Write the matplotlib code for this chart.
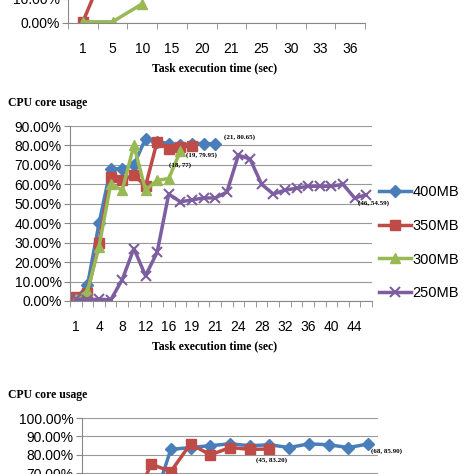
import matplotlib
matplotlib.use("Agg")
import matplotlib.pyplot as plt
from matplotlib.lines import Line2D
import numpy as np

# ---- top panel (cropped) ----
top_labels = ["1", "5", "10", "15", "20", "21", "25", "30", "33", "36"]
top_red = [0.5, 30.0]
top_green = [0.5, 0.5, 8.0]

# ---- middle panel ----
mid_labels = ["1", "4", "8", "12", "16", "19", "21", "24", "28", "32", "36", "40", "44"]
mb400 = [1, 8, 40, 68, 68, 70, 83.5, 82, 81, 80, 81, 81, 80.65]
mb350 = [2, 4, 30, 64, 62, 65, 59, 82, 78, 79, 79.95]
mb300 = [1, 5, 28, 60, 57, 80, 57, 62, 63, 77]
mb250 = [1, 0.5, 1, 0.5, 11, 27, 13, 25, 55, 51, 52, 53, 53, 56, 75, 73, 60, 55, 57, 58, 59, 59, 59, 60, 53, 54.59]

# ---- bottom panel (cropped) ----
bot_blue = [20, 30, 40, 50, 83, 84, 85, 86, 85, 85.5, 84, 86, 85.5, 84, 85.9]
bot_red = [20, 35, 50, 75, 71, 86, 80, 84, 83, 83.2]

BLUE = "#4a7ebb"; RED = "#be4b48"; GREEN = "#98b954"; PURPLE = "#7d5fa0"
W = H = 474
fig = plt.figure(figsize=(4.74, 4.74), dpi=100)

def ax_px(l, t, r, b):
    return fig.add_axes([l / W, 1 - b / H, (r - l) / W, (b - t) / H])

def style(ax, n, ylo, yhi, yt):
    for s in ["top", "right"]:
        ax.spines[s].set_visible(False)
    for s in ["left", "bottom"]:
        ax.spines[s].set_color("#888888")
    ax.grid(axis="y", color="#999999", lw=0.8)
    ax.set_axisbelow(True)
    ax.set_yticks(yt)
    ax.set_yticklabels([f"{v:.2f}%" for v in yt], family="Liberation Sans", fontsize=10)
    ax.set_xticks([i - 0.5 for i in range(n + 1)], minor=True)
    ax.tick_params(axis="x", which="minor", length=4, color="#888888", direction="out")
    ax.tick_params(axis="x", which="major", length=0, pad=14)
    ax.tick_params(axis="y", length=4, color="#888888", pad=2)

def limits(ax, n, ylo, yhi):
    ax.set_xlim(-0.5, n - 0.5)
    ax.set_ylim(ylo, yhi)

serif = dict(family="Liberation Serif", weight="bold")

# top
ax1 = ax_px(68, -1, 365, 23)
style(ax1, 10, 0, 10, [0, 10])
ax1.set_xticks(range(10))
ax1.set_xticklabels(top_labels, family="Liberation Sans", fontsize=10)
ax1.plot(range(len(top_red)), top_red, color=RED, lw=2.5, marker="s", ms=7)
ax1.plot(range(len(top_green)), top_green, color=GREEN, lw=2.5, marker="^", ms=7)
limits(ax1, 10, 0, 10)
fig.text(215 / W, 1 - 68 / H, "Task execution time (sec)", ha="center", va="center", fontsize=8.5, **serif)

# middle
ax2 = ax_px(70, 126, 372, 301)
style(ax2, 26, 0, 90, np.arange(0, 91, 10))
ax2.set_xticks(range(0, 26, 2))
ax2.set_xticklabels(mid_labels, family="Liberation Sans", fontsize=10)
ax2.plot(range(len(mb400)), mb400, color=BLUE, lw=2.5, marker="D", ms=6)
ax2.plot(range(len(mb350)), mb350, color=RED, lw=2.5, marker="s", ms=7)
ax2.plot(range(len(mb300)), mb300, color=GREEN, lw=2.5, marker="^", ms=7)
ax2.plot(range(len(mb250)), mb250, color=PURPLE, lw=2.5, marker="x", ms=7, mew=1.5)
limits(ax2, 26, 0, 90)
ann = dict(fontsize=5, **serif)
ax2.annotate("(21, 80.65)", (12, 80.65), xytext=(6, 4), textcoords="offset points", **ann)
ax2.annotate("(19, 79.95)", (10, 79.95), xytext=(-4, -8), textcoords="offset points", **ann)
ax2.annotate("(18, 77)", (9, 77), xytext=(-8, -11), textcoords="offset points", **ann)
ax2.annotate("(46, 54.59)", (25, 54.59), xytext=(-6, -7), textcoords="offset points", **ann)
handles = [Line2D([], [], color=BLUE, lw=2.5, marker="D", ms=6),
           Line2D([], [], color=RED, lw=2.5, marker="s", ms=7),
           Line2D([], [], color=GREEN, lw=2.5, marker="^", ms=7),
           Line2D([], [], color=PURPLE, lw=2.5, marker="x", ms=7, mew=1.5)]
fig.legend(handles, ["400MB", "350MB", "300MB", "250MB"], loc="upper left",
           bbox_to_anchor=(366 / W, 1 - 172 / H), frameon=False, handlelength=2.2,
           handletextpad=0.1, labelspacing=1.35, prop={"family": "Liberation Sans", "size": 10.5})
fig.text(8 / W, 1 - 103 / H, "CPU core usage", ha="left", va="center", fontsize=8.5, **serif)
fig.text(215 / W, 1 - 346 / H, "Task execution time (sec)", ha="center", va="center", fontsize=8.5, **serif)

# bottom
ax3 = ax_px(82, 418, 378, 490)
style(ax3, 15, 61, 100, [70, 80, 90, 100])
ax3.set_xticks([])
ax3.plot(range(len(bot_blue)), bot_blue, color=BLUE, lw=2.5, marker="D", ms=6)
ax3.plot(range(len(bot_red)), bot_red, color=RED, lw=2.5, marker="s", ms=7)
limits(ax3, 15, 61, 100)
ax3.annotate("(45, 83.20)", (9, 83.2), xytext=(-10, -9), textcoords="offset points", **ann)
ax3.annotate("(68, 85.90)", (14, 85.9), xytext=(2, -6), textcoords="offset points", **ann)
fig.text(8 / W, 1 - 395 / H, "CPU core usage", ha="left", va="center", fontsize=8.5, **serif)

fig.savefig("out.png", dpi=100)
